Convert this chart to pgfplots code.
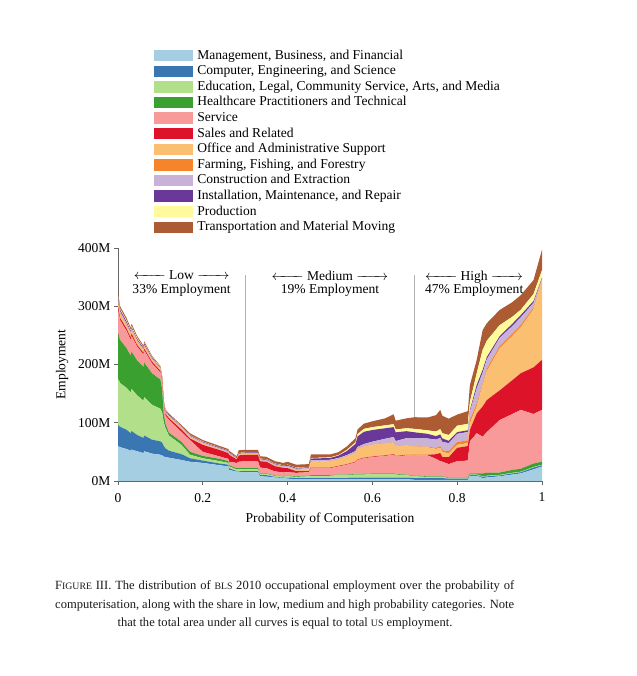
\documentclass[border=0pt]{standalone}
\usepackage{fontspec}
\setmainfont{Liberation Serif}
\usepackage{pgfplots}
\usepackage{pgfplotstable}
\pgfplotsset{compat=1.18}

\definecolor{cMgmt}{HTML}{A6CEE3}
\definecolor{cComp}{HTML}{3A76B1}
\definecolor{cEdu}{HTML}{B2DF8A}
\definecolor{cHlth}{HTML}{3AA02F}
\definecolor{cServ}{HTML}{F79A99}
\definecolor{cSale}{HTML}{DD1429}
\definecolor{cOffi}{HTML}{FBBF72}
\definecolor{cFarm}{HTML}{F6842A}
\definecolor{cCons}{HTML}{CAB2D6}
\definecolor{cInst}{HTML}{6A3898}
\definecolor{cProd}{HTML}{FFFB9C}
\definecolor{cTran}{HTML}{AD5B32}

% employment (millions) per occupation group
\pgfplotstableread{
x     mgmt comp edu hlth serv sale offi farm cons inst prod tran
0.000 60   36   80  78   40   5    8    1    4    3    3    5
0.005 58   35   75  74   34   4    6    1    4    3    2    4
0.020 55   33   72  68   30   4    5    1    3    3    2    4
0.030 52   30   70  63   27   4    5    1    3    2    2    4
0.032 54   32   72  64   27   4    5    1    3    2    2    4
0.045 51   28   68  60   24   3    4    1    3    2    2    3
0.060 48   26   64  58   21   3    4    0.5  2    2    1    3
0.062 51   27   66  59   21   3    4    0.5  2    2    1    3
0.080 47   24   60  54   17   3    3    0.5  2    1.5  1    2
0.100 45   23   56  50   12   3    3    0.5  1.5  1    1    1.5
0.104 44   22   52  40   12   3    3    0.5  1.5  1    1    1.5
0.108 42   18   40  14   13   3    3    0.5  1.5  1    1    1.5
0.112 41   15   35  7    14   3    2    0.5  1.5  1    1    2
0.120 40   12   26  5    22   3    2    0.5  2    1    0.5  2
0.150 36   10   16  5    17   4    2    0.3  2    1    0.5  2
0.170 33   6    6   5    20   3    2    0.3  2    1    0.5  3
0.200 31   4    4   4    7    12   2    0.3  2    1    0.5  2.5
0.240 27   3    4   4    4    11   1    0.2  2    1    0.3  2.5
0.260 25   3    3   3    4    10   1    0.2  2    1    0.3  2.5
0.262 19   3    3   2    6    12   1    0.2  2    1    0.3  2.5
0.280 16   1    3   2    9    6    1    0.2  1    1    0.3  2
0.285 16   1    3   2    11   11   1    0.2  1.5  1    0.3  5
0.300 15   2    3   2    12   11   1    0    2    1    0.5  4
0.330 15   2    3   2    12   11   1    0    2    1    0.5  4
0.335 8    2    2   1    10   11   1    0    2    1    0.5  4
0.350 7.5  2.5  2   1    9    11   1    0    2    1    0.5  4
0.370 6    1    1.5 1    7    9    1    0    2    1    0.5  4
0.390 5    1    1.5 1    6    8    1    0    2    1    0.5  4
0.400 4    2    2   1    6    7    2    0    2    1.5  0.5  5
0.420 3    2    2   1    6    3    2    0    2    1.5  0.5  5
0.450 3    2    3   1    6    2    3    0    2    1.5  0.5  5
0.455 3    2    4   1    12   1    10   0.5  2    3    1    6
0.500 3    2    4   1    12   1    11   0.5  2    3    1    5
0.520 3    2    5   1    14   1    11   0.5  2    4    1    5
0.540 3    2    5   1    17   1    13   0.5  2    7    2    6
0.560 3    3    5   1    20   1    15   0.5  3    12   3    7
0.565 3    3    5   1    24   1    18   0.5  3    18   4    8
0.580 3    3    5   1    27   1    19   0.5  4    21   5    9
0.600 3    3    6   1    28   1    20   0.5  5    20   5    10
0.630 3    3    6   1    30   1    20   0.5  8    18   5    12
0.650 3    3    6   1    32   1    20   0.5  9    17   5    17
0.655 3    3    5   1    30   1    16   0.5  9    15   5    15
0.680 3    3    4   1    33   1    16   0.5  12   12   5    17
0.700 2    3    3   1    35   1    14   0.5  14   10   6    20
0.730 2    3    2   1    36   1    13   1    14   8    6    22
0.750 2    3    2   1    30   8    9    2    14   6    8    28
0.760 2    3    2   1    26   14   9    3    14   6    9    33
0.765 2    3    2   1    25   8    9    3    14   6    9    30
0.780 2    2    1   1    23   12   6    4    14   4    10   28
0.800 2    2    1   1    28   23   5    5    14   3    11   19
0.825 2    2    1   1    29   25   5    5    14   3    11   22
0.830 9    1    1   2    55   20   11   6    14   3    14   29
0.846 9    1    1   2    69   34   12   5    26   6    20   23
0.860 5    2    1   5    63   52   37   3    18   5    34   34
0.870 6    2    1   5    70   55   50   4    16   4    28   30
0.900 8    1.5  1   4    90   51   72   4    14   3    19   26
0.930 11   2    1   5    96   58   76   4    13   4    12   25
0.950 13   2    1   5    101  63   79   4    13   4    9    25
0.980 20   3    1   6    85   80   100  3    8    3    12   24
1.000 25   2    1   5    89   86   137  1    1    2    13   35
}\emp

\newcommand\fsc[1]{{\fontsize{9.8}{12}\selectfont #1}}
\newcommand\larr{\makebox[32bp]{\leftarrowfill}}
\newcommand\rarr{\makebox[32bp]{\rightarrowfill}}

\begin{document}
\begin{tikzpicture}[x=1bp,y=1bp]
\useasboundingbox (0,0) rectangle (637,676);
\begin{axis}[
    at={(118bp,195bp)}, anchor=south west,
    scale only axis, width=424bp, height=233bp,
    xmin=0, xmax=1, ymin=0, ymax=400,
    axis x line*=bottom, axis y line*=left,
    axis line style={black!60, line width=0.8bp},
    tick align=outside, major tick length=4bp,
    tick style={black!60, line width=0.8bp},
    xtick={0,0.2,0.4,0.6,0.8,1},
    xticklabels={0,0.2,0.4,0.6,0.8,1},
    ytick={0,100,200,300,400},
    yticklabels={0M,100M,200M,300M,400M},
    /pgf/number format/assume math mode=true,
    ticklabel style={font=\fontsize{13.6}{16}\selectfont},
    xticklabel style={yshift=-4.5bp},
    label style={font=\fontsize{13.6}{16}\selectfont},
    xlabel={Probability of Computerisation},
    ylabel={Employment},
    xlabel style={at={(axis description cs:0.5,-0.162)}, anchor=center},
    ylabel style={at={(axis description cs:-0.132,0.5)}, anchor=center},
    stack plots=y,
    legend cell align=left,
    legend image code/.code={\fill[#1] (0bp,-5.7bp) rectangle (38.4bp,5.7bp);},
    legend style={at={(0.0856,1.853)}, anchor=north west,
        draw=none, fill=none, inner sep=0pt, outer sep=0pt,
        row sep=2.6bp, column sep=4.6bp,
        font=\fontsize{13.6}{15}\selectfont,
        nodes={inner sep=0pt, text height=9.8bp, text depth=3.2bp}},
]
\addplot[fill=cMgmt, draw=none] table[x=x, y=mgmt] {\emp} \closedcycle;
\addplot[fill=cComp, draw=none] table[x=x, y=comp] {\emp} \closedcycle;
\addplot[fill=cEdu,  draw=none] table[x=x, y=edu]  {\emp} \closedcycle;
\addplot[fill=cHlth, draw=none] table[x=x, y=hlth] {\emp} \closedcycle;
\addplot[fill=cServ, draw=none] table[x=x, y=serv] {\emp} \closedcycle;
\addplot[fill=cSale, draw=none] table[x=x, y=sale] {\emp} \closedcycle;
\addplot[fill=cOffi, draw=none] table[x=x, y=offi] {\emp} \closedcycle;
\addplot[fill=cFarm, draw=none] table[x=x, y=farm] {\emp} \closedcycle;
\addplot[fill=cCons, draw=none] table[x=x, y=cons] {\emp} \closedcycle;
\addplot[fill=cInst, draw=none] table[x=x, y=inst] {\emp} \closedcycle;
\addplot[fill=cProd, draw=none] table[x=x, y=prod] {\emp} \closedcycle;
\addplot[fill=cTran, draw=none] table[x=x, y=tran] {\emp} \closedcycle;
\legend{{Management, Business, and Financial},
  {Computer, Engineering, and Science},
  {Education, Legal, Community Service, Arts, and Media},
  Healthcare Practitioners and Technical,
  Service, Sales and Related, Office and Administrative Support,
  {Farming, Fishing, and Forestry},
  Construction and Extraction,
  {Installation, Maintenance, and Repair},
  Production, Transportation and Material Moving}

% category boundaries
\addplot[stack plots=false, black!30, line width=1.2bp, forget plot]
  coordinates {(0.3,0) (0.3,353)};
\addplot[stack plots=false, black!30, line width=1.2bp, forget plot]
  coordinates {(0.7,0) (0.7,353)};

\node[align=center, inner sep=0.5bp, font=\fontsize{13.6}{13.3}\selectfont]
  at (axis cs:0.15,339) {\larr{} Low \rarr\\33\% Employment};
\node[align=center, inner sep=0.5bp, font=\fontsize{13.6}{13.3}\selectfont]
  at (axis cs:0.5,339) {\larr{} Medium \rarr\\19\% Employment};
\node[align=center, inner sep=0.5bp, fill=white, font=\fontsize{13.6}{13.3}\selectfont]
  at (axis cs:0.84,339) {\larr{} High \rarr\\47\% Employment};
\end{axis}

\begin{scope}[font=\fontsize{12.6}{18.5}\selectfont, color=black!90]
\node[anchor=base west, inner sep=0pt] at (55,86)
  {\makebox[459bp][s]{F\fsc{IGURE} III. The distribution of \fsc{BLS} 2010 occupational employment over the probability of}};
\node[anchor=base west, inner sep=0pt] at (55,67.5)
  {\makebox[459bp][s]{computerisation, along with the share in low, medium and high probability categories. Note}};
\node[anchor=base, inner sep=0pt] at (285,49)
  {that the total area under all curves is equal to total \fsc{US} employment.};
\end{scope}
\end{tikzpicture}
\end{document}
